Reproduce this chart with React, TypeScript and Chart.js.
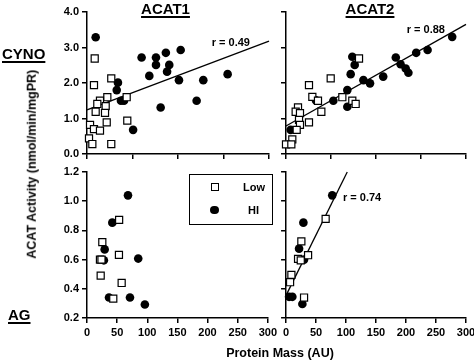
import React, { useEffect, useRef } from "react";
import { Chart, registerables } from "chart.js";

Chart.register(...registerables);

const FONT = "'Liberation Sans', Arial, Helvetica, sans-serif";

// ---------- ACAT1 / CYNO ----------
const acat1CynoLowX = [12.7, 11.5, 40, 33.5, 21.4, 17, 14.3, 30.8, 29.7, 65.4, 66.4, 5, 11.5, 21.4, 32.5, 3.3, 8.8, 40];
const acat1CynoLowY = [2.69, 1.94, 2.13, 1.6, 1.5, 1.41, 1.19, 1.35, 1.16, 1.6, 0.94, 0.82, 0.7, 0.66, 0.89, 0.44, 0.28, 0.28];
const acat1CynoHiX = [14.3, 51, 49, 56, 61, 76, 90, 113.7, 113.7, 130, 154.4, 135.6, 132, 102.7, 151.6, 191.7, 231.8, 121.4, 180.7];
const acat1CynoHiY = [3.29, 2.01, 1.8, 1.5, 1.5, 0.68, 2.72, 2.72, 2.51, 2.85, 2.93, 2.51, 2.32, 2.2, 2.08, 2.08, 2.25, 1.31, 1.5];
const acat1CynoFitX = [0, 300];
const acat1CynoFitY = [1.24, 3.18];

// ---------- ACAT2 / CYNO ----------
const acat2CynoLowX = [121.7, 74.5, 38.3, 43.9, 53.3, 93.9, 110.5, 116.1, 58.9, 20, 16.1, 23.3, 21.7, 38.3, 23.3, 17.8, 10.5, 0, 8.9];
const acat2CynoLowY = [2.69, 2.13, 1.94, 1.61, 1.5, 1.6, 1.5, 1.41, 1.19, 1.31, 1.19, 1.15, 0.96, 0.89, 0.82, 0.68, 0.41, 0.27, 0.27];
const acat2CynoHiX = [277, 236, 217, 183, 191, 199.5, 204, 162, 110.5, 114.5, 107.8, 102.2, 102.2, 78.9, 129, 140, 7.8, 50];
const acat2CynoHiY = [3.3, 2.93, 2.85, 2.72, 2.53, 2.41, 2.29, 2.18, 2.74, 2.51, 2.25, 1.8, 1.33, 1.5, 2.08, 1.99, 0.68, 1.51];
const acat2CynoFitX = [0, 300];
const acat2CynoFitY = [0.79, 3.65];

// ---------- ACAT1 / AG ----------
const acat1AgLowX = [53.3, 25.4, 21.5, 24, 53, 22.7, 57.5, 43.6];
const acat1AgLowY = [0.872, 0.72, 0.6, 0.6, 0.632, 0.49, 0.44, 0.333];
const acat1AgHiX = [68, 42, 29.3, 28, 85, 36.5, 71.3, 96];
const acat1AgHiY = [1.04, 0.853, 0.67, 0.595, 0.607, 0.34, 0.34, 0.292];

// ---------- ACAT2 / AG ----------
const acat2AgLowX = [66, 25.5, 20, 24.5, 36.7, 8.9, 6.7, 30];
const acat2AgLowY = [0.879, 0.725, 0.605, 0.595, 0.63, 0.495, 0.445, 0.34];
const acat2AgHiX = [77, 28.9, 21.7, 30, 5, 10.5, 27.2];
const acat2AgHiY = [1.04, 0.853, 0.675, 0.6, 0.345, 0.345, 0.296];
const acat2AgFitX = [0, 102];
const acat2AgFitY = [0.355, 1.2];

// ---------- axes ----------
const xMin = 0;
const xMax = 300;
const xStepTop = 75;
const xStepBottom = 50;
const yTopMin = 0;
const yTopMax = 4;
const yTopStep = 1;
const yBottomMin = 0.2;
const yBottomMax = 1.2;
const yBottomStep = 0.2;

const pts = (xs: number[], ys: number[]) => xs.map((x, i) => ({ x, y: ys[i] }));

type PanelProps = {
  left: number;
  top: number;
  width: number;
  height: number;
  padTop: number;
  padRight: number;
  yAxisWidth: number;
  xAxisHeight: number;
  xStep: number;
  yMin: number;
  yMax: number;
  yStep: number;
  showXLabels: boolean;
  showYLabels: boolean;
  low: { x: number; y: number }[];
  hi: { x: number; y: number }[];
  fit?: { x: number; y: number }[];
};

function Panel(p: PanelProps) {
  const ref = useRef<HTMLCanvasElement>(null);
  useEffect(() => {
    const tickFont = { family: FONT, size: 11, weight: "bold" as const };
    const datasets: any[] = [
      {
        label: "Low",
        data: p.low,
        pointStyle: "rect",
        pointRadius: 5,
        backgroundColor: "#ffffff",
        borderColor: "#000000",
        borderWidth: 1.2,
        clip: false,
      },
      {
        label: "HI",
        data: p.hi,
        pointStyle: "circle",
        pointRadius: 4.3,
        backgroundColor: "#000000",
        borderColor: "#000000",
        borderWidth: 0,
        clip: false,
      },
    ];
    if (p.fit) {
      datasets.push({
        type: "line",
        label: "fit",
        data: p.fit,
        showLine: true,
        borderColor: "#000000",
        borderWidth: 1.3,
        pointRadius: 0,
        fill: false,
        clip: false,
      });
    }
    const chart = new Chart(ref.current as HTMLCanvasElement, {
      type: "scatter",
      data: { datasets },
      options: {
        responsive: false,
        animation: false,
        devicePixelRatio: 1,
        layout: {
          padding: { top: p.padTop, right: p.padRight, left: 0, bottom: 0 },
          autoPadding: false,
        },
        plugins: {
          legend: { display: false },
          tooltip: { enabled: false },
          title: { display: false },
        },
        scales: {
          x: {
            type: "linear",
            min: xMin,
            max: xMax,
            ticks: {
              stepSize: p.xStep,
              autoSkip: false,
              maxRotation: 0,
              color: "#000",
              font: tickFont,
              padding: 3,
              callback: (v: any) => (p.showXLabels ? String(v) : ""),
            },
            grid: {
              drawOnChartArea: false,
              drawTicks: true,
              tickLength: 5,
              color: "#000",
              lineWidth: 1.5,
            },
            border: { display: true, color: "#000", width: 1.5 },
            afterFit: (s: any) => {
              s.height = p.xAxisHeight;
            },
          },
          y: {
            type: "linear",
            min: p.yMin,
            max: p.yMax,
            ticks: {
              stepSize: p.yStep,
              autoSkip: false,
              color: "#000",
              font: tickFont,
              padding: 3,
              callback: (v: any) => (p.showYLabels ? Number(v).toFixed(1) : ""),
            },
            grid: {
              drawOnChartArea: false,
              drawTicks: true,
              tickLength: 5,
              color: "#000",
              lineWidth: 1.5,
            },
            border: { display: true, color: "#000", width: 1.5 },
            afterFit: (s: any) => {
              s.width = p.yAxisWidth;
            },
          },
        },
      } as any,
    });
    return () => chart.destroy();
  }, []);
  return (
    <canvas
      ref={ref}
      width={p.width}
      height={p.height}
      style={{ position: "absolute", left: p.left, top: p.top, width: p.width, height: p.height }}
    />
  );
}

function Label(props: {
  text: string;
  x: number;
  baseline: number;
  size: number;
  align?: "left" | "center" | "right";
  underline?: boolean;
}) {
  const align = props.align || "left";
  const w = 200;
  let left = props.x;
  if (align === "center") left = props.x - w / 2;
  if (align === "right") left = props.x - w;
  return (
    <div
      style={{
        position: "absolute",
        left,
        top: props.baseline - 0.847 * props.size,
        width: w,
        textAlign: align,
        fontFamily: FONT,
        fontWeight: "bold",
        fontSize: props.size,
        lineHeight: `${props.size}px`,
        color: "#000",
        whiteSpace: "nowrap",
        textDecoration: props.underline ? "underline" : "none",
        textDecorationThickness: props.underline ? "1.5px" : undefined,
        textUnderlineOffset: props.underline ? "1.5px" : undefined,
      }}
    >
      {props.text}
    </div>
  );
}

export default function App() {
  return (
    <div
      style={{
        position: "fixed",
        left: 0,
        top: 0,
        width: 474,
        height: 360,
        overflow: "hidden",
        background: "#ffffff",
      }}
    >
      <Panel
        left={30}
        top={0}
        width={250}
        height={170}
        padTop={12}
        padRight={11}
        yAxisWidth={57}
        xAxisHeight={16}
        xStep={xStepTop}
        yMin={yTopMin}
        yMax={yTopMax}
        yStep={yTopStep}
        showXLabels={false}
        showYLabels={true}
        low={pts(acat1CynoLowX, acat1CynoLowY)}
        hi={pts(acat1CynoHiX, acat1CynoHiY)}
        fit={pts(acat1CynoFitX, acat1CynoFitY)}
      />
      <Panel
        left={280}
        top={0}
        width={204}
        height={170}
        padTop={12}
        padRight={18}
        yAxisWidth={6}
        xAxisHeight={16}
        xStep={xStepTop}
        yMin={yTopMin}
        yMax={yTopMax}
        yStep={yTopStep}
        showXLabels={false}
        showYLabels={false}
        low={pts(acat2CynoLowX, acat2CynoLowY)}
        hi={pts(acat2CynoHiX, acat2CynoHiY)}
        fit={pts(acat2CynoFitX, acat2CynoFitY)}
      />
      <Panel
        left={30}
        top={160}
        width={250}
        height={180}
        padTop={12}
        padRight={11}
        yAxisWidth={57}
        xAxisHeight={22}
        xStep={xStepBottom}
        yMin={yBottomMin}
        yMax={yBottomMax}
        yStep={yBottomStep}
        showXLabels={true}
        showYLabels={true}
        low={pts(acat1AgLowX, acat1AgLowY)}
        hi={pts(acat1AgHiX, acat1AgHiY)}
      />
      <Panel
        left={280}
        top={160}
        width={204}
        height={180}
        padTop={12}
        padRight={18}
        yAxisWidth={6}
        xAxisHeight={22}
        xStep={xStepBottom}
        yMin={yBottomMin}
        yMax={yBottomMax}
        yStep={yBottomStep}
        showXLabels={true}
        showYLabels={false}
        low={pts(acat2AgLowX, acat2AgLowY)}
        hi={pts(acat2AgHiX, acat2AgHiY)}
        fit={pts(acat2AgFitX, acat2AgFitY)}
      />

      {/* legend */}
      <div
        style={{
          position: "absolute",
          left: 189,
          top: 174,
          width: 84,
          height: 51,
          border: "1.5px solid #000",
          boxSizing: "border-box",
          background: "#fff",
        }}
      />
      <div
        style={{
          position: "absolute",
          left: 211,
          top: 183,
          width: 8,
          height: 8,
          border: "1.2px solid #000",
          boxSizing: "border-box",
          background: "#fff",
        }}
      />
      <div
        style={{
          position: "absolute",
          left: 210,
          top: 205.5,
          width: 8.6,
          height: 8.6,
          borderRadius: "50%",
          background: "#000",
        }}
      />
      <Label text="Low" x={243} baseline={191.5} size={11} />
      <Label text="HI" x={248} baseline={214} size={11} />

      {/* titles */}
      <Label text="ACAT1" x={165.5} baseline={13.5} size={15} align="center" underline />
      <Label text="ACAT2" x={370} baseline={13.5} size={15} align="center" underline />
      <Label text="CYNO" x={2} baseline={59} size={15} underline />
      <Label text="AG" x={8} baseline={320} size={15} underline />
      <Label text="Protein Mass (AU)" x={280} baseline={357.5} size={12.5} align="center" />

      {/* r values */}
      <Label text="r = 0.49" x={250} baseline={46.7} size={11} align="right" />
      <Label text="r = 0.88" x={445} baseline={33.5} size={11} align="right" />
      <Label text="r = 0.74" x={343} baseline={201} size={11} />

      {/* y axis title */}
      <div
        style={{
          position: "absolute",
          left: 32 - 110,
          top: 164.5 - 6.25,
          width: 220,
          textAlign: "center",
          fontFamily: FONT,
          fontWeight: "bold",
          fontSize: 12.5,
          lineHeight: "12.5px",
          color: "#000",
          whiteSpace: "nowrap",
          transform: "rotate(-90deg)",
          transformOrigin: "50% 50%",
        }}
      >
        ACAT Activity (nmol/min/mgPR)
      </div>
    </div>
  );
}
